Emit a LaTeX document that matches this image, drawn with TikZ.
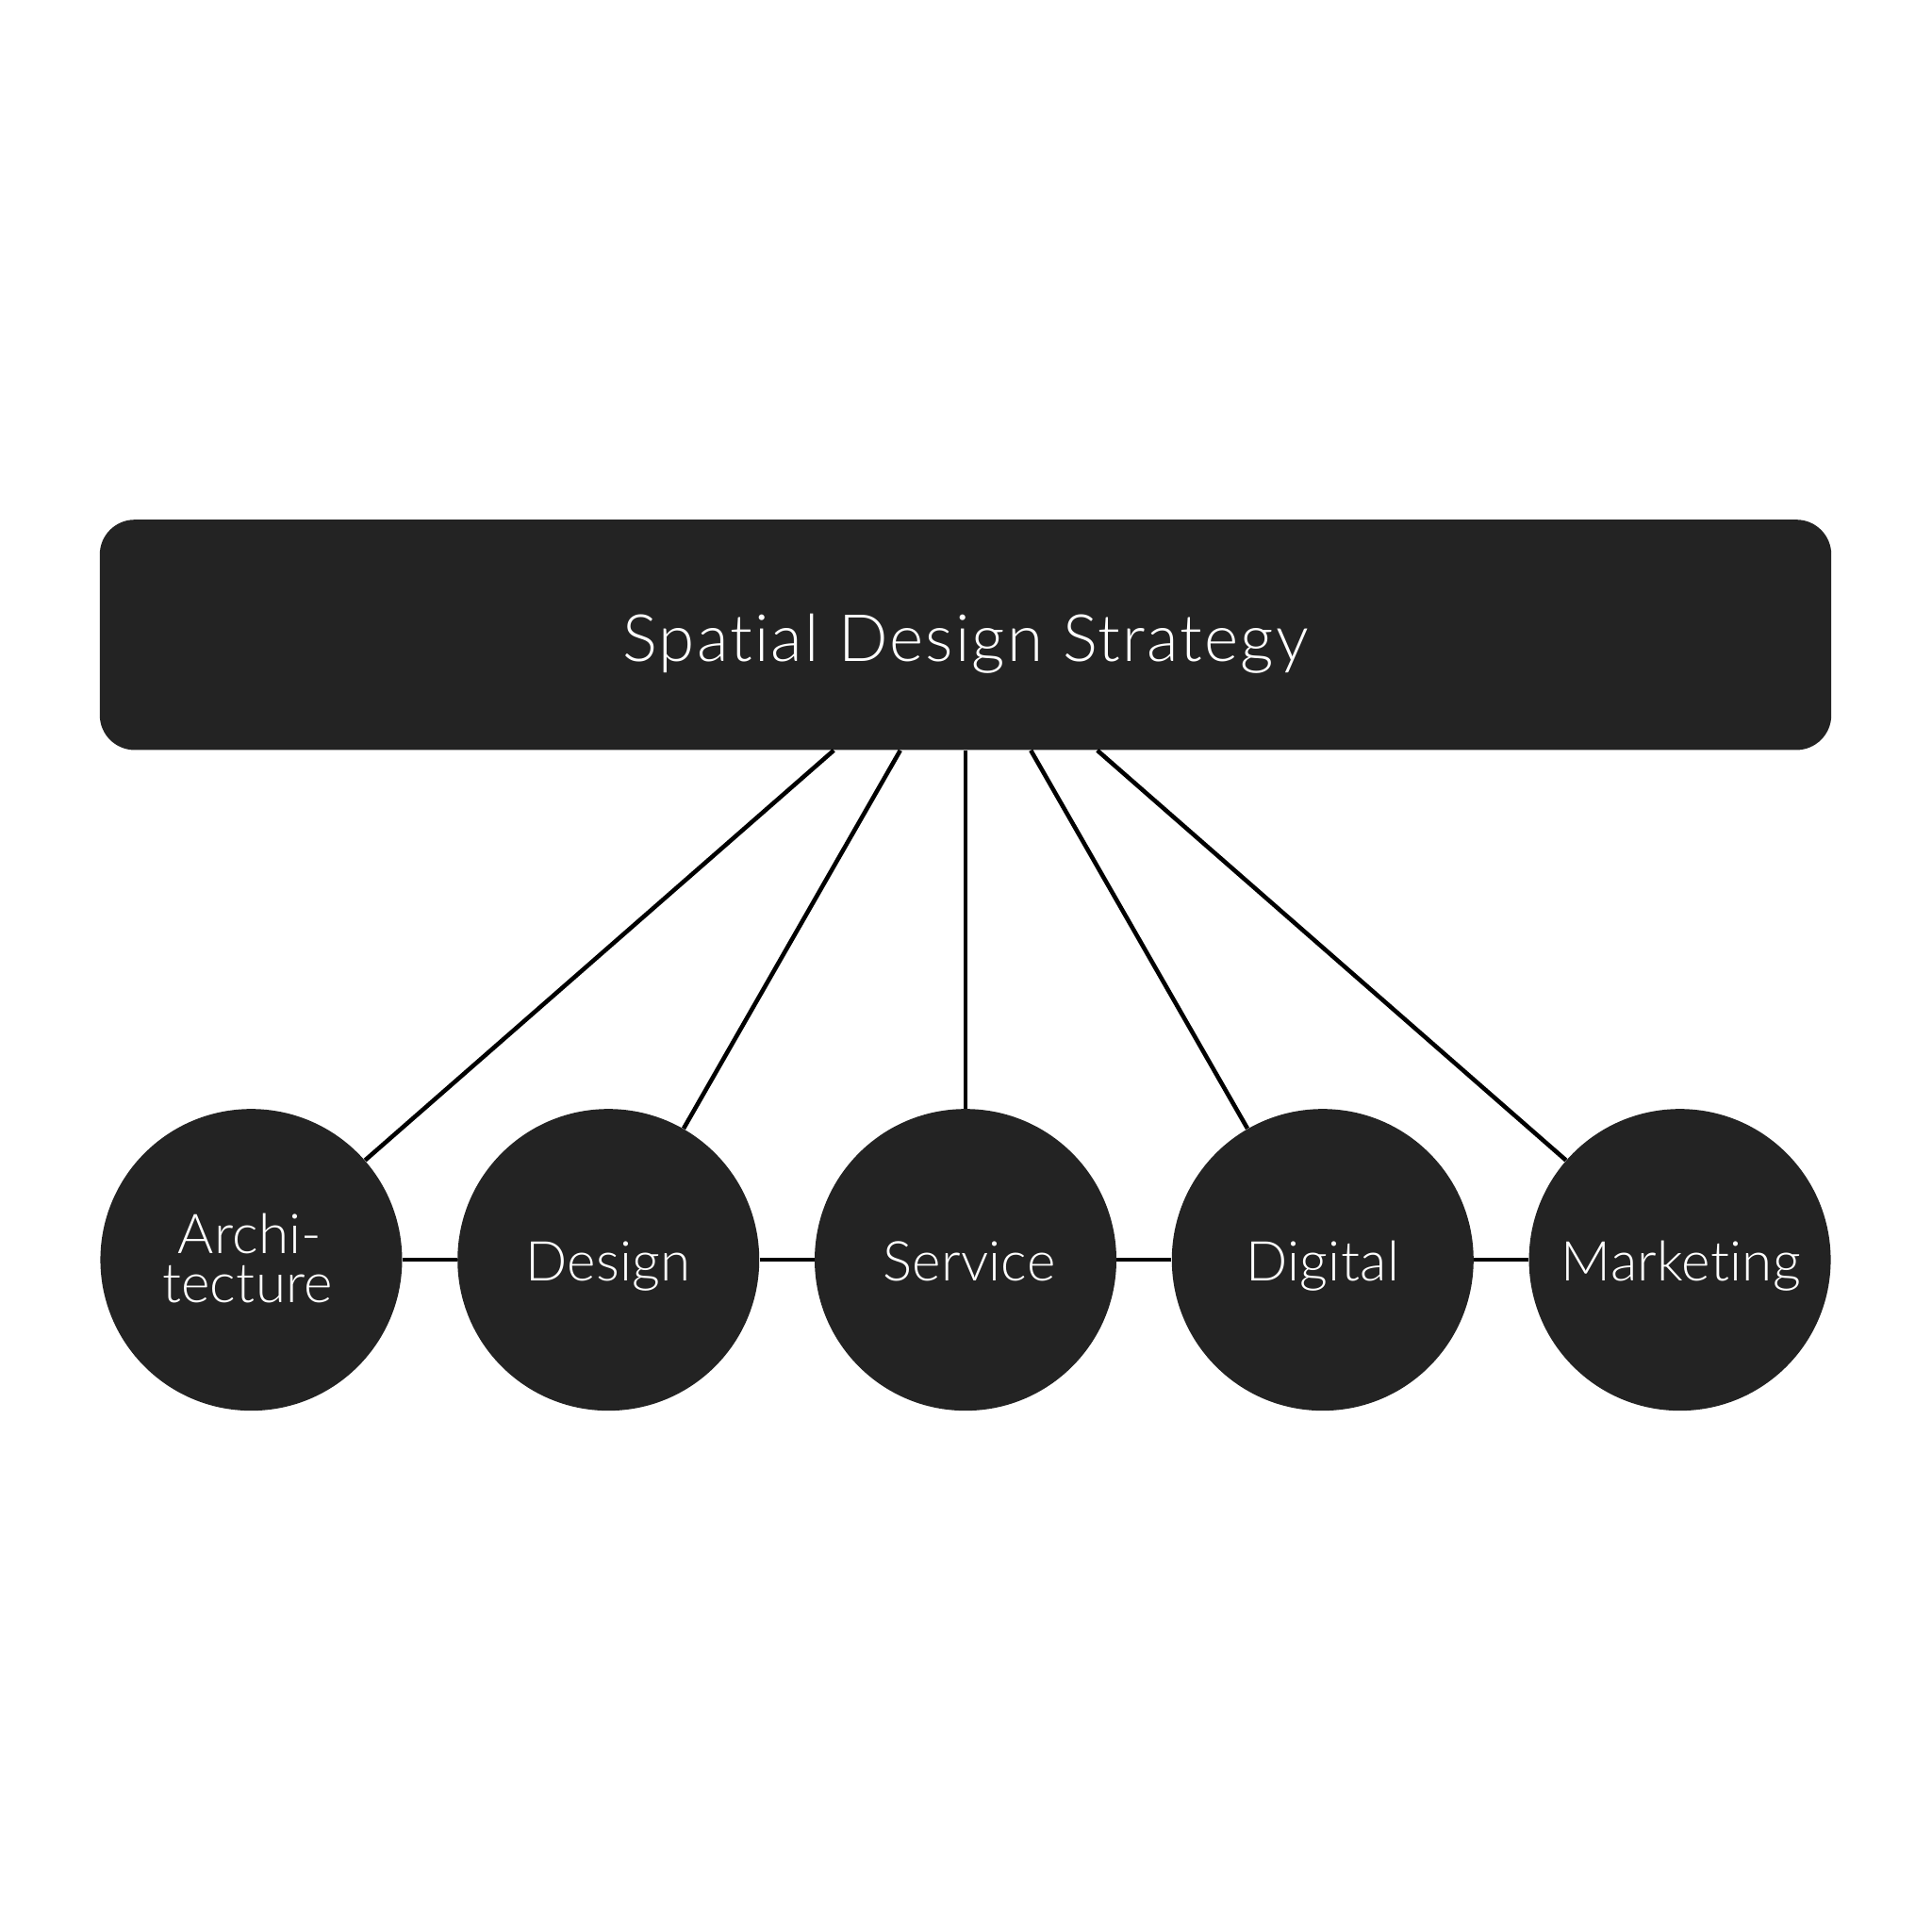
\documentclass[tikz,border=0pt]{standalone}
\usepackage{fontspec}
\setmainfont{Lato Light}[Ligatures=NoCommon]
\usetikzlibrary{calc}
\definecolor{dark}{HTML}{232323}
\begin{document}
\begin{tikzpicture}[x=0.6pt,y=-0.6pt,
  topbox/.style={fill=dark,draw=none,rounded corners=17pt,minimum width=843.6pt,minimum height=112.2pt,inner sep=0pt},
  titletext/.style={anchor=base,inner sep=0pt,text=white,font=\addfontfeatures{LetterSpace=3}\fontsize{31.8}{36}\selectfont},
  disc/.style={circle,fill=dark,draw=none,minimum size=147pt,inner sep=0pt},
  lbl/.style={anchor=base,inner sep=0pt,text=white,font=\addfontfeatures{LetterSpace=0.5}\fontsize{26.8}{30}\selectfont},
  link/.style={draw=black,line width=2.1pt}]
\useasboundingbox (0,0) rectangle (1568,1568);
\node[topbox] (top) at (784,515.5) {};
\node[titletext] (title) at (784,537) {Spatial Design Strategy};
\node[disc] (c1) at (204,1023) {};
\node[disc] (c2) at (494,1023) {};
\node[disc] (c3) at (784,1023) {};
\node[disc] (c4) at (1074,1023) {};
\node[disc] (c5) at (1364,1023) {};
\node[lbl] (t1a) at (203,1018) {Archi-};
\node[lbl] (t1b) at (201,1058) {tecture};
\node[lbl] (t2) at (494,1040) {Design};
\node[lbl] (t3) at (787,1040) {Service};
\node[lbl] (t4) at (1074,1040) {Digital};
\node[lbl] (t5) at (1365,1040) {Marketing};
\coordinate (p1) at ($(top.south)+(-64.2pt,0)$);
\coordinate (p2) at ($(top.south)+(-31.8pt,0)$);
\coordinate (p3) at (top.south);
\coordinate (p4) at ($(top.south)+(31.8pt,0)$);
\coordinate (p5) at ($(top.south)+(64.2pt,0)$);
\draw[link] (p1) -- (c1);
\draw[link] (p2) -- (c2);
\draw[link] (p3) -- (c3);
\draw[link] (p4) -- (c4);
\draw[link] (p5) -- (c5);
\draw[link] (c1) -- (c2);
\draw[link] (c2) -- (c3);
\draw[link] (c3) -- (c4);
\draw[link] (c4) -- (c5);
\end{tikzpicture}
\end{document}
